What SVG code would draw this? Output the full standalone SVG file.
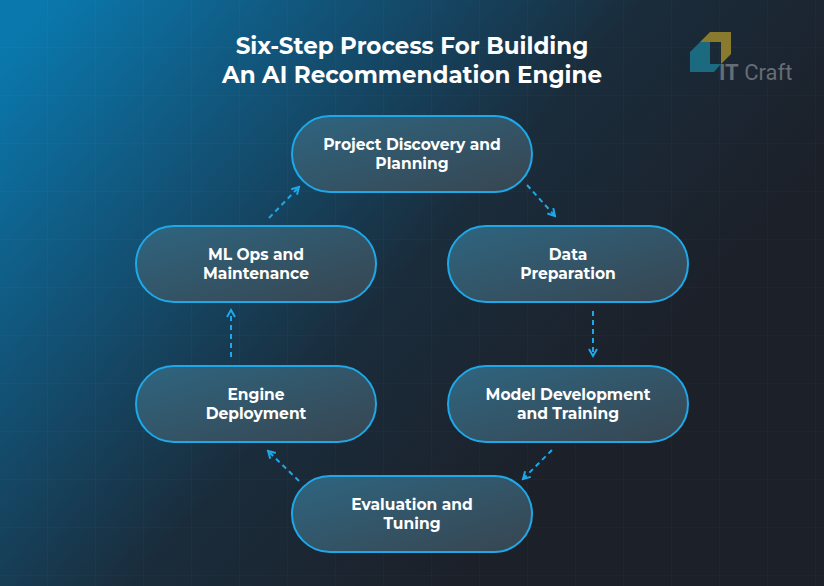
<svg xmlns="http://www.w3.org/2000/svg" width="824" height="586" viewBox="0 0 824 586">
<defs>
<linearGradient id="bg" x1="0" y1="0.1" x2="0.8" y2="0.6">
<stop offset="0" stop-color="#0a78ad"/><stop offset="0.3" stop-color="#125479"/><stop offset="0.65" stop-color="#1a2c3b"/><stop offset="1" stop-color="#1c2029"/>
</linearGradient>
<linearGradient id="ng" x1="0" y1="0" x2="1" y2="1"><stop offset="0" stop-color="#2e6580"/><stop offset="1" stop-color="#384550"/></linearGradient>
<pattern id="grid" width="48" height="48" patternUnits="userSpaceOnUse"><path d="M48 0V48H0" fill="none" stroke="#ffffff" stroke-opacity="0.04"/></pattern>
<marker id="ah" viewBox="0 0 10 10" refX="8" refY="5" markerWidth="10" markerHeight="10" markerUnits="userSpaceOnUse" orient="auto"><path d="M1 1L8 5L1 9" fill="none" stroke="#1fa8e8" stroke-width="2"/></marker>
<style>
.n rect{fill:url(#ng);stroke:#1fa8e8;stroke-width:2}
.n text{font-family:Montserrat,"Open Sans",sans-serif;font-weight:700;font-size:15.5px;fill:#fff;text-anchor:middle}
.c path{fill:none;stroke:#1fa8e8;stroke-width:2;stroke-dasharray:5 4;marker-end:url(#ah)}
</style>
</defs>
<rect width="824" height="586" fill="url(#bg)"/>
<rect width="824" height="586" fill="url(#grid)"/>
<text x="412" y="54" font-family="Montserrat,'Open Sans',sans-serif" font-weight="700" font-size="23" fill="#fff" text-anchor="middle">Six-Step Process For Building</text>
<text x="412" y="83" font-family="Montserrat,'Open Sans',sans-serif" font-weight="700" font-size="23" fill="#fff" text-anchor="middle">An AI Recommendation Engine</text>
<g id="logo">
<path d="M700 42L710 32H731V54L721 64V42Z" fill="#8a7a2e"/>
<path d="M700 42H710V64H721L714 72H690V52Z" fill="#1b6a80"/>
<text x="719" y="80" font-family="Roboto,sans-serif" font-size="22" fill="#666d75"><tspan font-weight="700">IT</tspan> Craft</text>
</g>
<g class="c">
<path d="M527 185L555 216"/>
<path d="M593 311V356"/>
<path d="M552 450L523 479"/>
<path d="M299 481L268 451"/>
<path d="M231 357V310"/>
<path d="M269 218L299 187"/>
</g>
<g id="n1" class="n"><rect x="292" y="116" width="240" height="76" rx="38"/><text x="412" y="150">Project Discovery and</text><text x="412" y="169">Planning</text></g>
<g id="n2" class="n"><rect x="448" y="226" width="240" height="76" rx="38"/><text x="568" y="260">Data</text><text x="568" y="279">Preparation</text></g>
<g id="n3" class="n"><rect x="448" y="366" width="240" height="76" rx="38"/><text x="568" y="400">Model Development</text><text x="568" y="419">and Training</text></g>
<g id="n4" class="n"><rect x="292" y="476" width="240" height="76" rx="38"/><text x="412" y="510">Evaluation and</text><text x="412" y="529">Tuning</text></g>
<g id="n5" class="n"><rect x="136" y="366" width="240" height="76" rx="38"/><text x="256" y="400">Engine</text><text x="256" y="419">Deployment</text></g>
<g id="n6" class="n"><rect x="136" y="226" width="240" height="76" rx="38"/><text x="256" y="260">ML Ops and</text><text x="256" y="279">Maintenance</text></g>
</svg>
